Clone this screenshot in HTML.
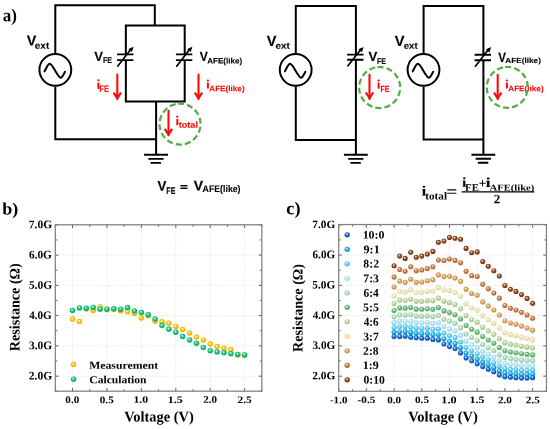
<!DOCTYPE html>
<html><head><meta charset="utf-8"><title>figure</title>
<style>html,body{margin:0;padding:0;background:#fff;}svg{display:block;will-change:transform;text-rendering:geometricPrecision;}</style></head>
<body><svg width="550" height="429" viewBox="0 0 550 429">
<rect width="550" height="429" fill="#fff"/>
<defs><radialGradient id="gffbe00" cx="0.5" cy="0.5" r="0.5" fx="0.38" fy="0.3"><stop offset="0" stop-color="#ffffff"/><stop offset="0.24" stop-color="#ffe28c"/><stop offset="0.62" stop-color="#ffbe00"/><stop offset="1" stop-color="#ebaf00"/></radialGradient>
<radialGradient id="g0ac070" cx="0.5" cy="0.5" r="0.5" fx="0.38" fy="0.3"><stop offset="0" stop-color="#ffffff"/><stop offset="0.24" stop-color="#91e3bf"/><stop offset="0.62" stop-color="#0ac070"/><stop offset="1" stop-color="#09b167"/></radialGradient>
<radialGradient id="g883e12" cx="0.5" cy="0.5" r="0.5" fx="0.38" fy="0.3"><stop offset="0" stop-color="#ffffff"/><stop offset="0.24" stop-color="#c9a894"/><stop offset="0.62" stop-color="#883e12"/><stop offset="1" stop-color="#7d3911"/></radialGradient>
<radialGradient id="gc0763a" cx="0.5" cy="0.5" r="0.5" fx="0.38" fy="0.3"><stop offset="0" stop-color="#ffffff"/><stop offset="0.24" stop-color="#e3c1a6"/><stop offset="0.62" stop-color="#c0763a"/><stop offset="1" stop-color="#b16d35"/></radialGradient>
<radialGradient id="gd69e52" cx="0.5" cy="0.5" r="0.5" fx="0.38" fy="0.3"><stop offset="0" stop-color="#ffffff"/><stop offset="0.24" stop-color="#edd3b1"/><stop offset="0.62" stop-color="#d69e52"/><stop offset="1" stop-color="#c5914b"/></radialGradient>
<radialGradient id="gece4aa" cx="0.5" cy="0.5" r="0.5" fx="0.38" fy="0.3"><stop offset="0" stop-color="#ffffff"/><stop offset="0.24" stop-color="#f6f3d9"/><stop offset="0.62" stop-color="#ece4aa"/><stop offset="1" stop-color="#d9d29c"/></radialGradient>
<radialGradient id="gb6d494" cx="0.5" cy="0.5" r="0.5" fx="0.38" fy="0.3"><stop offset="0" stop-color="#ffffff"/><stop offset="0.24" stop-color="#deeccf"/><stop offset="0.62" stop-color="#b6d494"/><stop offset="1" stop-color="#a7c388"/></radialGradient>
<radialGradient id="g60ba70" cx="0.5" cy="0.5" r="0.5" fx="0.38" fy="0.3"><stop offset="0" stop-color="#ffffff"/><stop offset="0.24" stop-color="#b7e0bf"/><stop offset="0.62" stop-color="#60ba70"/><stop offset="1" stop-color="#58ab67"/></radialGradient>
<radialGradient id="ga8d8b4" cx="0.5" cy="0.5" r="0.5" fx="0.38" fy="0.3"><stop offset="0" stop-color="#ffffff"/><stop offset="0.24" stop-color="#d8eddd"/><stop offset="0.62" stop-color="#a8d8b4"/><stop offset="1" stop-color="#9bc7a6"/></radialGradient>
<radialGradient id="gace4fa" cx="0.5" cy="0.5" r="0.5" fx="0.38" fy="0.3"><stop offset="0" stop-color="#ffffff"/><stop offset="0.24" stop-color="#daf3fd"/><stop offset="0.62" stop-color="#ace4fa"/><stop offset="1" stop-color="#9ed2e6"/></radialGradient>
<radialGradient id="g56ccf6" cx="0.5" cy="0.5" r="0.5" fx="0.38" fy="0.3"><stop offset="0" stop-color="#ffffff"/><stop offset="0.24" stop-color="#b3e8fb"/><stop offset="0.62" stop-color="#56ccf6"/><stop offset="1" stop-color="#4fbce2"/></radialGradient>
<radialGradient id="g10a6ec" cx="0.5" cy="0.5" r="0.5" fx="0.38" fy="0.3"><stop offset="0" stop-color="#ffffff"/><stop offset="0.24" stop-color="#93d7f6"/><stop offset="0.62" stop-color="#10a6ec"/><stop offset="1" stop-color="#0f99d9"/></radialGradient>
<radialGradient id="g0862cc" cx="0.5" cy="0.5" r="0.5" fx="0.38" fy="0.3"><stop offset="0" stop-color="#ffffff"/><stop offset="0.24" stop-color="#90b8e8"/><stop offset="0.62" stop-color="#0862cc"/><stop offset="1" stop-color="#075abc"/></radialGradient></defs>
<path d="M55.3 53V5.25H154.8V25.55" stroke="#000" stroke-width="2" fill="none"/>
<path d="M125.85 54.4V25.55H184.7V54.4M125.85 60.1V101.6H184.7V60.1" stroke="#000" stroke-width="2" fill="none"/>
<path d="M156.1 101.6V154.75" stroke="#000" stroke-width="2" fill="none"/>
<path d="M55.3 86.6V139.2H156.1" stroke="#000" stroke-width="2" fill="none"/>
<circle cx="55.35" cy="69.85" r="15.9" stroke="#000" stroke-width="2.0" fill="none"/>
<path d="M44.55 71.35C46.75 67.55 47.85 63.85 49.85 63.85C52.45 63.85 57.95 77.65 60.55 77.65C62.45 77.65 63.45 74.35 65.05 71.75" stroke="#000" stroke-width="2" fill="none" stroke-linecap="round"/>
<path d="M117.05 54.40H133.45M117.05 60.10H133.45" stroke="#000" stroke-width="1.9" fill="none"/>
<path d="M117.85 66.10L131.05 49.00" stroke="#000" stroke-width="1.7" fill="none" stroke-linecap="round"/>
<path d="M133.55 46.70L128.35 49.10L131.95 52.10Z" fill="#000"/>
<path d="M175.90 54.35H192.30M175.90 60.15H192.30" stroke="#000" stroke-width="1.9" fill="none"/>
<path d="M176.70 66.15L189.90 48.95" stroke="#000" stroke-width="1.7" fill="none" stroke-linecap="round"/>
<path d="M192.40 46.65L187.20 49.05L190.80 52.05Z" fill="#000"/>
<path d="M144.10 154.75H168.00M148.40 158.85H163.60M150.60 162.85H161.00" stroke="#000" stroke-width="1.9" fill="none"/>
<path d="M117.30 74.60V99.10" stroke="#ff0a0a" stroke-width="2.1" fill="none" stroke-linecap="round"/>
<path d="M113.60 92.60L117.30 98.20L121.00 92.60" stroke="#ff0a0a" stroke-width="2.2" fill="none" stroke-linejoin="miter" stroke-miterlimit="6"/>
<path d="M198.50 74.60V99.10" stroke="#ff0a0a" stroke-width="2.1" fill="none" stroke-linecap="round"/>
<path d="M194.80 92.60L198.50 98.20L202.20 92.60" stroke="#ff0a0a" stroke-width="2.2" fill="none" stroke-linejoin="miter" stroke-miterlimit="6"/>
<path d="M168.50 110.80V135.30" stroke="#ff0a0a" stroke-width="2.1" fill="none" stroke-linecap="round"/>
<path d="M164.80 128.80L168.50 134.40L172.20 128.80" stroke="#ff0a0a" stroke-width="2.2" fill="none" stroke-linejoin="miter" stroke-miterlimit="6"/>
<path d="M295.8 53V6H355.9V54.6M355.9 60.1V154.8M355.9 139.9H295.8V86.6" stroke="#000" stroke-width="2" fill="none"/>
<circle cx="295.70" cy="69.85" r="15.9" stroke="#000" stroke-width="2.0" fill="none"/>
<path d="M284.90 71.35C287.10 67.55 288.20 63.85 290.20 63.85C292.80 63.85 298.30 77.65 300.90 77.65C302.80 77.65 303.80 74.35 305.40 71.75" stroke="#000" stroke-width="2" fill="none" stroke-linecap="round"/>
<path d="M347.10 54.60H363.50M347.10 59.80H363.50" stroke="#000" stroke-width="1.9" fill="none"/>
<path d="M347.90 65.80L361.10 49.20" stroke="#000" stroke-width="1.7" fill="none" stroke-linecap="round"/>
<path d="M363.60 46.90L358.40 49.30L362.00 52.30Z" fill="#000"/>
<path d="M343.90 154.80H367.80M348.20 158.90H363.40M350.40 162.90H360.80" stroke="#000" stroke-width="1.9" fill="none"/>
<path d="M369.50 74.80V99.00" stroke="#ff0a0a" stroke-width="2.1" fill="none" stroke-linecap="round"/>
<path d="M365.80 92.50L369.50 98.10L373.20 92.50" stroke="#ff0a0a" stroke-width="2.2" fill="none" stroke-linejoin="miter" stroke-miterlimit="6"/>
<path d="M423.6 53V6H483.4V54.7M483.4 60.2V154.7M483.4 139.4H423.6V86.6" stroke="#000" stroke-width="2" fill="none"/>
<circle cx="423.50" cy="69.85" r="15.9" stroke="#000" stroke-width="2.0" fill="none"/>
<path d="M412.70 71.35C414.90 67.55 416.00 63.85 418.00 63.85C420.60 63.85 426.10 77.65 428.70 77.65C430.60 77.65 431.60 74.35 433.20 71.75" stroke="#000" stroke-width="2" fill="none" stroke-linecap="round"/>
<path d="M474.60 54.70H491.00M474.60 60.20H491.00" stroke="#000" stroke-width="1.9" fill="none"/>
<path d="M475.40 66.20L488.60 49.30" stroke="#000" stroke-width="1.7" fill="none" stroke-linecap="round"/>
<path d="M491.10 47.00L485.90 49.40L489.50 52.40Z" fill="#000"/>
<path d="M471.40 154.70H495.30M475.70 158.80H490.90M477.90 162.80H488.30" stroke="#000" stroke-width="1.9" fill="none"/>
<path d="M497.70 74.80V99.10" stroke="#ff0a0a" stroke-width="2.1" fill="none" stroke-linecap="round"/>
<path d="M494.00 92.60L497.70 98.20L501.40 92.60" stroke="#ff0a0a" stroke-width="2.2" fill="none" stroke-linejoin="miter" stroke-miterlimit="6"/>
<text class="L" transform="translate(26.64 45.60) skewY(0.03) scale(0.9910 1)" font-family='"Liberation Sans", sans-serif' font-size="14.51" font-weight="bold" fill="#000" stroke="#000" stroke-width="0.15">V</text>
<text class="L" transform="translate(34.82 48.73) skewY(0.03) scale(1.0437 1)" font-family='"Liberation Sans", sans-serif' font-size="9.54" font-weight="bold" fill="#000" stroke="#000" stroke-width="0.10">ext</text>
<text class="L" transform="translate(94.26 61.02) skewY(0.03) scale(0.9826 1)" font-family='"Liberation Sans", sans-serif' font-size="13.42" font-weight="bold" fill="#000" stroke="#000" stroke-width="0.15">V</text>
<text class="L" transform="translate(102.93 63.43) skewY(0.03) scale(0.8483 1)" font-family='"Liberation Sans", sans-serif' font-size="8.47" font-weight="bold" fill="#000" stroke="#000" stroke-width="0.10">FE</text>
<text class="L" transform="translate(199.82 60.90) skewY(0.03) scale(0.9135 1)" font-family='"Liberation Sans", sans-serif' font-size="13.25" font-weight="bold" fill="#000" stroke="#000" stroke-width="0.15">V</text>
<text class="L" transform="translate(207.15 63.47) skewY(0.03) scale(1.0118 1)" font-family='"Liberation Sans", sans-serif' font-size="8.03" font-weight="bold" fill="#000" stroke="#000" stroke-width="0.10">AFE(like)</text>
<ellipse cx="98.45" cy="80.30" rx="1.2" ry="1.0" fill="#ff0a0a"/>
<rect x="97.45" y="82.40" width="2.0" height="6.55" rx="0.4" fill="#ff0a0a"/>
<g class="L"></g>
<text class="L" transform="translate(99.37 91.91) skewY(0.03) scale(0.7933 1)" font-family='"Liberation Sans", sans-serif' font-size="9.61" font-weight="bold" fill="#ff0a0a" stroke="#ff0a0a" stroke-width="0.10">FE</text>
<ellipse cx="207.90" cy="80.40" rx="1.2" ry="1.0" fill="#ff0a0a"/>
<rect x="206.90" y="82.50" width="2.0" height="6.05" rx="0.4" fill="#ff0a0a"/>
<g class="L"></g>
<text class="L" transform="translate(209.24 91.19) skewY(0.03) scale(1.0162 1)" font-family='"Liberation Sans", sans-serif' font-size="8.04" font-weight="bold" fill="#ff0a0a" stroke="#ff0a0a" stroke-width="0.10">AFE(like)</text>
<ellipse cx="177.30" cy="116.80" rx="1.2" ry="1.0" fill="#ff0a0a"/>
<rect x="176.30" y="118.90" width="2.0" height="6.45" rx="0.4" fill="#ff0a0a"/>
<g class="L"></g>
<text class="L" transform="translate(178.79 127.77) skewY(0.03) scale(1.0198 1)" font-family='"Liberation Sans", sans-serif' font-size="8.89" font-weight="bold" fill="#ff0a0a" stroke="#ff0a0a" stroke-width="0.10">total</text>
<text class="L" transform="translate(157.41 190.71) skewY(0.03) scale(0.9444 1)" font-family='"Liberation Sans", sans-serif' font-size="14.13" font-weight="bold" fill="#000" stroke="#000" stroke-width="0.15">V</text>
<text class="L" transform="translate(166.32 193.89) skewY(0.03) scale(0.7364 1)" font-family='"Liberation Sans", sans-serif' font-size="9.70" font-weight="bold" fill="#000" stroke="#000" stroke-width="0.10">FE</text>
<text class="L" transform="translate(180.10 190.55) skewY(0.03) scale(1.2888 1)" font-family='"Liberation Sans", sans-serif' font-size="10.54" font-weight="bold" fill="#000" stroke="#000" stroke-width="0.15">=</text>
<text class="L" transform="translate(193.63 190.60) skewY(0.03) scale(0.9866 1)" font-family='"Liberation Sans", sans-serif' font-size="14.18" font-weight="bold" fill="#000" stroke="#000" stroke-width="0.15">V</text>
<text class="L" transform="translate(202.58 192.45) skewY(0.03) scale(0.9219 1)" font-family='"Liberation Sans", sans-serif' font-size="9.50" font-weight="bold" fill="#000" stroke="#000" stroke-width="0.10">AFE(like)</text>
<text class="L" transform="translate(266.65 45.89) skewY(0.03) scale(0.9719 1)" font-family='"Liberation Sans", sans-serif' font-size="14.96" font-weight="bold" fill="#000" stroke="#000" stroke-width="0.15">V</text>
<text class="L" transform="translate(275.41 48.71) skewY(0.03) scale(1.0793 1)" font-family='"Liberation Sans", sans-serif' font-size="9.20" font-weight="bold" fill="#000" stroke="#000" stroke-width="0.10">ext</text>
<text class="L" transform="translate(368.45 61.01) skewY(0.03) scale(1.0015 1)" font-family='"Liberation Sans", sans-serif' font-size="13.18" font-weight="bold" fill="#000" stroke="#000" stroke-width="0.15">V</text>
<text class="L" transform="translate(376.99 63.90) skewY(0.03) scale(0.8614 1)" font-family='"Liberation Sans", sans-serif' font-size="8.26" font-weight="bold" fill="#000" stroke="#000" stroke-width="0.10">FE</text>
<ellipse cx="378.65" cy="80.50" rx="1.2" ry="1.0" fill="#ff0a0a"/>
<rect x="377.65" y="82.60" width="2.0" height="6.15" rx="0.4" fill="#ff0a0a"/>
<g class="L"></g>
<text class="L" transform="translate(380.39 92.07) skewY(0.03) scale(0.7961 1)" font-family='"Liberation Sans", sans-serif' font-size="8.85" font-weight="bold" fill="#ff0a0a" stroke="#ff0a0a" stroke-width="0.10">FE</text>
<text class="L" transform="translate(394.84 45.89) skewY(0.03) scale(0.9899 1)" font-family='"Liberation Sans", sans-serif' font-size="14.70" font-weight="bold" fill="#000" stroke="#000" stroke-width="0.15">V</text>
<text class="L" transform="translate(403.71 48.73) skewY(0.03) scale(1.0551 1)" font-family='"Liberation Sans", sans-serif' font-size="9.18" font-weight="bold" fill="#000" stroke="#000" stroke-width="0.10">ext</text>
<text class="L" transform="translate(498.28 61.64) skewY(0.03) scale(0.8501 1)" font-family='"Liberation Sans", sans-serif' font-size="13.59" font-weight="bold" fill="#000" stroke="#000" stroke-width="0.15">V</text>
<text class="L" transform="translate(505.24 63.07) skewY(0.03) scale(1.1148 1)" font-family='"Liberation Sans", sans-serif' font-size="7.38" font-weight="bold" fill="#000" stroke="#000" stroke-width="0.10">AFE(like)</text>
<ellipse cx="506.90" cy="80.40" rx="1.2" ry="1.0" fill="#ff0a0a"/>
<rect x="505.90" y="82.50" width="2.0" height="6.05" rx="0.4" fill="#ff0a0a"/>
<g class="L"></g>
<text class="L" transform="translate(508.24 91.19) skewY(0.03) scale(1.0162 1)" font-family='"Liberation Sans", sans-serif' font-size="8.04" font-weight="bold" fill="#ff0a0a" stroke="#ff0a0a" stroke-width="0.10">AFE(like)</text>
<circle cx="180.05" cy="124.15" r="20.50" stroke="#52ad47" stroke-width="2.2" fill="none" stroke-dasharray="6.072 3.128" transform="rotate(-96.0 180.05 124.15)"/>
<circle cx="379.65" cy="87.55" r="20.50" stroke="#52ad47" stroke-width="2.2" fill="none" stroke-dasharray="6.072 3.128" transform="rotate(-96.0 379.65 87.55)"/>
<circle cx="507.30" cy="87.40" r="20.50" stroke="#52ad47" stroke-width="2.2" fill="none" stroke-dasharray="6.072 3.128" transform="rotate(-96.0 507.30 87.40)"/>
<path d="M72.51 225.80V390.20M106.94 225.80V390.20M141.36 225.80V390.20M175.79 225.80V390.20M210.21 225.80V390.20M244.64 225.80V390.20M56.30 376.17H260.85M56.30 345.89H260.85M56.30 315.62H260.85M56.30 285.36H260.85M56.30 255.09H260.85" stroke="#d8d8d8" stroke-width="0.8" stroke-dasharray="0.9 1.5" fill="none"/>
<path d="M55.30 391.20v-2.00M55.30 224.80v2.00M72.51 391.20v-3.20M72.51 224.80v3.20M89.72 391.20v-2.00M89.72 224.80v2.00M106.94 391.20v-3.20M106.94 224.80v3.20M124.15 391.20v-2.00M124.15 224.80v2.00M141.36 391.20v-3.20M141.36 224.80v3.20M158.57 391.20v-2.00M158.57 224.80v2.00M175.79 391.20v-3.20M175.79 224.80v3.20M193.00 391.20v-2.00M193.00 224.80v2.00M210.21 391.20v-3.20M210.21 224.80v3.20M227.43 391.20v-2.00M227.43 224.80v2.00M244.64 391.20v-3.20M244.64 224.80v3.20M261.85 391.20v-2.00M261.85 224.80v2.00M55.30 391.30h2.00M261.85 391.30h-2.00M55.30 376.17h3.20M261.85 376.17h-3.20M55.30 361.03h2.00M261.85 361.03h-2.00M55.30 345.89h3.20M261.85 345.89h-3.20M55.30 330.76h2.00M261.85 330.76h-2.00M55.30 315.62h3.20M261.85 315.62h-3.20M55.30 300.49h2.00M261.85 300.49h-2.00M55.30 285.36h3.20M261.85 285.36h-3.20M55.30 270.22h2.00M261.85 270.22h-2.00M55.30 255.09h3.20M261.85 255.09h-3.20M55.30 239.95h2.00M261.85 239.95h-2.00M55.30 224.82h3.20M261.85 224.82h-3.20" stroke="#606060" stroke-width="1" fill="none"/>
<rect x="55.30" y="224.80" width="206.55" height="166.40" stroke="#808080" stroke-width="1.25" fill="none"/>
<path d="M366.40 225.55V390.30M394.10 225.55V390.30M421.80 225.55V390.30M449.50 225.55V390.30M477.20 225.55V390.30M504.90 225.55V390.30M532.60 225.55V390.30M339.70 376.17H545.45M339.70 345.89H545.45M339.70 315.62H545.45M339.70 285.36H545.45M339.70 255.09H545.45" stroke="#d8d8d8" stroke-width="0.8" stroke-dasharray="0.9 1.5" fill="none"/>
<path d="M338.70 391.30v-3.20M338.70 224.55v3.20M352.55 391.30v-2.00M352.55 224.55v2.00M366.40 391.30v-3.20M366.40 224.55v3.20M380.25 391.30v-2.00M380.25 224.55v2.00M394.10 391.30v-3.20M394.10 224.55v3.20M407.95 391.30v-2.00M407.95 224.55v2.00M421.80 391.30v-3.20M421.80 224.55v3.20M435.65 391.30v-2.00M435.65 224.55v2.00M449.50 391.30v-3.20M449.50 224.55v3.20M463.35 391.30v-2.00M463.35 224.55v2.00M477.20 391.30v-3.20M477.20 224.55v3.20M491.05 391.30v-2.00M491.05 224.55v2.00M504.90 391.30v-3.20M504.90 224.55v3.20M518.75 391.30v-2.00M518.75 224.55v2.00M532.60 391.30v-3.20M532.60 224.55v3.20M546.45 391.30v-2.00M546.45 224.55v2.00M338.70 391.30h2.00M546.45 391.30h-2.00M338.70 376.17h3.20M546.45 376.17h-3.20M338.70 361.03h2.00M546.45 361.03h-2.00M338.70 345.89h3.20M546.45 345.89h-3.20M338.70 330.76h2.00M546.45 330.76h-2.00M338.70 315.62h3.20M546.45 315.62h-3.20M338.70 300.49h2.00M546.45 300.49h-2.00M338.70 285.36h3.20M546.45 285.36h-3.20M338.70 270.22h2.00M546.45 270.22h-2.00M338.70 255.09h3.20M546.45 255.09h-3.20M338.70 239.95h2.00M546.45 239.95h-2.00M338.70 224.82h3.20M546.45 224.82h-3.20" stroke="#606060" stroke-width="1" fill="none"/>
<rect x="338.70" y="224.55" width="207.75" height="166.75" stroke="#808080" stroke-width="1.25" fill="none"/>
<circle cx="72.51" cy="319.10" r="2.75" fill="url(#gffbe00)"/>
<circle cx="79.40" cy="321.60" r="2.75" fill="url(#gffbe00)"/>
<circle cx="86.28" cy="309.00" r="2.75" fill="url(#gffbe00)"/>
<circle cx="93.17" cy="310.40" r="2.75" fill="url(#gffbe00)"/>
<circle cx="100.05" cy="307.10" r="2.75" fill="url(#gffbe00)"/>
<circle cx="106.94" cy="309.80" r="2.75" fill="url(#gffbe00)"/>
<circle cx="113.82" cy="309.50" r="2.75" fill="url(#gffbe00)"/>
<circle cx="120.71" cy="310.90" r="2.75" fill="url(#gffbe00)"/>
<circle cx="127.59" cy="311.80" r="2.75" fill="url(#gffbe00)"/>
<circle cx="134.48" cy="313.50" r="2.75" fill="url(#gffbe00)"/>
<circle cx="141.36" cy="317.90" r="2.75" fill="url(#gffbe00)"/>
<circle cx="148.25" cy="315.70" r="2.75" fill="url(#gffbe00)"/>
<circle cx="155.13" cy="321.20" r="2.75" fill="url(#gffbe00)"/>
<circle cx="162.02" cy="321.80" r="2.75" fill="url(#gffbe00)"/>
<circle cx="168.90" cy="323.20" r="2.75" fill="url(#gffbe00)"/>
<circle cx="175.79" cy="326.50" r="2.75" fill="url(#gffbe00)"/>
<circle cx="182.67" cy="329.50" r="2.75" fill="url(#gffbe00)"/>
<circle cx="189.56" cy="333.00" r="2.75" fill="url(#gffbe00)"/>
<circle cx="196.44" cy="337.10" r="2.75" fill="url(#gffbe00)"/>
<circle cx="203.33" cy="339.90" r="2.75" fill="url(#gffbe00)"/>
<circle cx="210.21" cy="344.10" r="2.75" fill="url(#gffbe00)"/>
<circle cx="217.10" cy="346.60" r="2.75" fill="url(#gffbe00)"/>
<circle cx="223.98" cy="348.30" r="2.75" fill="url(#gffbe00)"/>
<circle cx="230.87" cy="349.60" r="2.75" fill="url(#gffbe00)"/>
<circle cx="237.75" cy="354.90" r="2.75" fill="url(#gffbe00)"/>
<circle cx="244.64" cy="355.20" r="2.75" fill="url(#gffbe00)"/>
<circle cx="72.51" cy="310.45" r="2.75" fill="url(#g0ac070)"/>
<circle cx="79.40" cy="307.89" r="2.75" fill="url(#g0ac070)"/>
<circle cx="86.28" cy="308.15" r="2.75" fill="url(#g0ac070)"/>
<circle cx="93.17" cy="307.44" r="2.75" fill="url(#g0ac070)"/>
<circle cx="100.05" cy="309.17" r="2.75" fill="url(#g0ac070)"/>
<circle cx="106.94" cy="309.31" r="2.75" fill="url(#g0ac070)"/>
<circle cx="113.82" cy="308.81" r="2.75" fill="url(#g0ac070)"/>
<circle cx="120.71" cy="309.19" r="2.75" fill="url(#g0ac070)"/>
<circle cx="127.59" cy="307.46" r="2.75" fill="url(#g0ac070)"/>
<circle cx="134.48" cy="310.89" r="2.75" fill="url(#g0ac070)"/>
<circle cx="141.36" cy="312.60" r="2.75" fill="url(#g0ac070)"/>
<circle cx="148.25" cy="314.68" r="2.75" fill="url(#g0ac070)"/>
<circle cx="155.13" cy="319.03" r="2.75" fill="url(#g0ac070)"/>
<circle cx="162.02" cy="325.59" r="2.75" fill="url(#g0ac070)"/>
<circle cx="168.90" cy="329.23" r="2.75" fill="url(#g0ac070)"/>
<circle cx="175.79" cy="332.14" r="2.75" fill="url(#g0ac070)"/>
<circle cx="182.67" cy="336.56" r="2.75" fill="url(#g0ac070)"/>
<circle cx="189.56" cy="340.00" r="2.75" fill="url(#g0ac070)"/>
<circle cx="196.44" cy="343.28" r="2.75" fill="url(#g0ac070)"/>
<circle cx="203.33" cy="347.43" r="2.75" fill="url(#g0ac070)"/>
<circle cx="210.21" cy="350.79" r="2.75" fill="url(#g0ac070)"/>
<circle cx="217.10" cy="352.02" r="2.75" fill="url(#g0ac070)"/>
<circle cx="223.98" cy="352.78" r="2.75" fill="url(#g0ac070)"/>
<circle cx="230.87" cy="353.72" r="2.75" fill="url(#g0ac070)"/>
<circle cx="237.75" cy="354.38" r="2.75" fill="url(#g0ac070)"/>
<circle cx="244.64" cy="354.88" r="2.75" fill="url(#g0ac070)"/>
<circle cx="73.60" cy="364.60" r="2.75" fill="url(#gffbe00)"/>
<circle cx="73.60" cy="379.20" r="2.75" fill="url(#g0ac070)"/>
<circle cx="394.10" cy="265.80" r="2.55" fill="url(#g883e12)"/>
<circle cx="399.64" cy="256.10" r="2.55" fill="url(#g883e12)"/>
<circle cx="405.18" cy="258.40" r="2.55" fill="url(#g883e12)"/>
<circle cx="410.72" cy="252.30" r="2.55" fill="url(#g883e12)"/>
<circle cx="416.26" cy="257.20" r="2.55" fill="url(#g883e12)"/>
<circle cx="421.80" cy="256.10" r="2.55" fill="url(#g883e12)"/>
<circle cx="427.34" cy="254.10" r="2.55" fill="url(#g883e12)"/>
<circle cx="432.88" cy="251.40" r="2.55" fill="url(#g883e12)"/>
<circle cx="438.42" cy="242.30" r="2.55" fill="url(#g883e12)"/>
<circle cx="443.96" cy="241.00" r="2.55" fill="url(#g883e12)"/>
<circle cx="449.50" cy="237.40" r="2.55" fill="url(#g883e12)"/>
<circle cx="455.04" cy="238.30" r="2.55" fill="url(#g883e12)"/>
<circle cx="460.58" cy="239.20" r="2.55" fill="url(#g883e12)"/>
<circle cx="466.12" cy="248.40" r="2.55" fill="url(#g883e12)"/>
<circle cx="471.66" cy="252.70" r="2.55" fill="url(#g883e12)"/>
<circle cx="477.20" cy="251.90" r="2.55" fill="url(#g883e12)"/>
<circle cx="482.74" cy="261.50" r="2.55" fill="url(#g883e12)"/>
<circle cx="488.28" cy="266.30" r="2.55" fill="url(#g883e12)"/>
<circle cx="493.82" cy="270.70" r="2.55" fill="url(#g883e12)"/>
<circle cx="499.36" cy="276.00" r="2.55" fill="url(#g883e12)"/>
<circle cx="504.90" cy="285.50" r="2.55" fill="url(#g883e12)"/>
<circle cx="510.44" cy="289.30" r="2.55" fill="url(#g883e12)"/>
<circle cx="515.98" cy="291.40" r="2.55" fill="url(#g883e12)"/>
<circle cx="521.52" cy="294.60" r="2.55" fill="url(#g883e12)"/>
<circle cx="527.06" cy="298.40" r="2.55" fill="url(#g883e12)"/>
<circle cx="532.60" cy="303.30" r="2.55" fill="url(#g883e12)"/>
<circle cx="394.10" cy="277.09" r="2.55" fill="url(#gc0763a)"/>
<circle cx="399.64" cy="269.54" r="2.55" fill="url(#gc0763a)"/>
<circle cx="405.18" cy="271.21" r="2.55" fill="url(#gc0763a)"/>
<circle cx="410.72" cy="266.80" r="2.55" fill="url(#gc0763a)"/>
<circle cx="416.26" cy="270.73" r="2.55" fill="url(#gc0763a)"/>
<circle cx="421.80" cy="270.02" r="2.55" fill="url(#gc0763a)"/>
<circle cx="427.34" cy="268.49" r="2.55" fill="url(#gc0763a)"/>
<circle cx="432.88" cy="266.80" r="2.55" fill="url(#gc0763a)"/>
<circle cx="438.42" cy="260.11" r="2.55" fill="url(#gc0763a)"/>
<circle cx="443.96" cy="260.57" r="2.55" fill="url(#gc0763a)"/>
<circle cx="449.50" cy="258.94" r="2.55" fill="url(#gc0763a)"/>
<circle cx="455.04" cy="260.38" r="2.55" fill="url(#gc0763a)"/>
<circle cx="460.58" cy="262.79" r="2.55" fill="url(#gc0763a)"/>
<circle cx="466.12" cy="271.37" r="2.55" fill="url(#gc0763a)"/>
<circle cx="471.66" cy="275.64" r="2.55" fill="url(#gc0763a)"/>
<circle cx="477.20" cy="276.49" r="2.55" fill="url(#gc0763a)"/>
<circle cx="482.74" cy="284.34" r="2.55" fill="url(#gc0763a)"/>
<circle cx="488.28" cy="288.84" r="2.55" fill="url(#gc0763a)"/>
<circle cx="493.82" cy="293.02" r="2.55" fill="url(#gc0763a)"/>
<circle cx="499.36" cy="298.17" r="2.55" fill="url(#gc0763a)"/>
<circle cx="504.90" cy="305.45" r="2.55" fill="url(#gc0763a)"/>
<circle cx="510.44" cy="308.32" r="2.55" fill="url(#gc0763a)"/>
<circle cx="515.98" cy="309.94" r="2.55" fill="url(#gc0763a)"/>
<circle cx="521.52" cy="312.32" r="2.55" fill="url(#gc0763a)"/>
<circle cx="527.06" cy="314.96" r="2.55" fill="url(#gc0763a)"/>
<circle cx="532.60" cy="318.24" r="2.55" fill="url(#gc0763a)"/>
<circle cx="394.10" cy="286.98" r="2.55" fill="url(#gd69e52)"/>
<circle cx="399.64" cy="281.12" r="2.55" fill="url(#gd69e52)"/>
<circle cx="405.18" cy="282.30" r="2.55" fill="url(#gd69e52)"/>
<circle cx="410.72" cy="279.18" r="2.55" fill="url(#gd69e52)"/>
<circle cx="416.26" cy="282.36" r="2.55" fill="url(#gd69e52)"/>
<circle cx="421.80" cy="281.95" r="2.55" fill="url(#gd69e52)"/>
<circle cx="427.34" cy="280.78" r="2.55" fill="url(#gd69e52)"/>
<circle cx="432.88" cy="279.84" r="2.55" fill="url(#gd69e52)"/>
<circle cx="438.42" cy="274.92" r="2.55" fill="url(#gd69e52)"/>
<circle cx="443.96" cy="276.58" r="2.55" fill="url(#gd69e52)"/>
<circle cx="449.50" cy="276.28" r="2.55" fill="url(#gd69e52)"/>
<circle cx="455.04" cy="278.03" r="2.55" fill="url(#gd69e52)"/>
<circle cx="460.58" cy="281.35" r="2.55" fill="url(#gd69e52)"/>
<circle cx="466.12" cy="289.35" r="2.55" fill="url(#gd69e52)"/>
<circle cx="471.66" cy="293.49" r="2.55" fill="url(#gd69e52)"/>
<circle cx="477.20" cy="295.31" r="2.55" fill="url(#gd69e52)"/>
<circle cx="482.74" cy="301.91" r="2.55" fill="url(#gd69e52)"/>
<circle cx="488.28" cy="306.11" r="2.55" fill="url(#gd69e52)"/>
<circle cx="493.82" cy="310.06" r="2.55" fill="url(#gd69e52)"/>
<circle cx="499.36" cy="314.96" r="2.55" fill="url(#gd69e52)"/>
<circle cx="504.90" cy="320.75" r="2.55" fill="url(#gd69e52)"/>
<circle cx="510.44" cy="322.99" r="2.55" fill="url(#gd69e52)"/>
<circle cx="515.98" cy="324.28" r="2.55" fill="url(#gd69e52)"/>
<circle cx="521.52" cy="326.11" r="2.55" fill="url(#gd69e52)"/>
<circle cx="527.06" cy="327.97" r="2.55" fill="url(#gd69e52)"/>
<circle cx="532.60" cy="330.17" r="2.55" fill="url(#gd69e52)"/>
<circle cx="394.10" cy="295.71" r="2.55" fill="url(#gece4aa)"/>
<circle cx="399.64" cy="291.20" r="2.55" fill="url(#gece4aa)"/>
<circle cx="405.18" cy="292.00" r="2.55" fill="url(#gece4aa)"/>
<circle cx="410.72" cy="289.88" r="2.55" fill="url(#gece4aa)"/>
<circle cx="416.26" cy="292.46" r="2.55" fill="url(#gece4aa)"/>
<circle cx="421.80" cy="292.29" r="2.55" fill="url(#gece4aa)"/>
<circle cx="427.34" cy="291.40" r="2.55" fill="url(#gece4aa)"/>
<circle cx="432.88" cy="291.01" r="2.55" fill="url(#gece4aa)"/>
<circle cx="438.42" cy="287.45" r="2.55" fill="url(#gece4aa)"/>
<circle cx="443.96" cy="289.92" r="2.55" fill="url(#gece4aa)"/>
<circle cx="449.50" cy="290.54" r="2.55" fill="url(#gece4aa)"/>
<circle cx="455.04" cy="292.47" r="2.55" fill="url(#gece4aa)"/>
<circle cx="460.58" cy="296.33" r="2.55" fill="url(#gece4aa)"/>
<circle cx="466.12" cy="303.80" r="2.55" fill="url(#gece4aa)"/>
<circle cx="471.66" cy="307.78" r="2.55" fill="url(#gece4aa)"/>
<circle cx="477.20" cy="310.17" r="2.55" fill="url(#gece4aa)"/>
<circle cx="482.74" cy="315.85" r="2.55" fill="url(#gece4aa)"/>
<circle cx="488.28" cy="319.77" r="2.55" fill="url(#gece4aa)"/>
<circle cx="493.82" cy="323.48" r="2.55" fill="url(#gece4aa)"/>
<circle cx="499.36" cy="328.12" r="2.55" fill="url(#gece4aa)"/>
<circle cx="504.90" cy="332.85" r="2.55" fill="url(#gece4aa)"/>
<circle cx="510.44" cy="334.65" r="2.55" fill="url(#gece4aa)"/>
<circle cx="515.98" cy="335.71" r="2.55" fill="url(#gece4aa)"/>
<circle cx="521.52" cy="337.15" r="2.55" fill="url(#gece4aa)"/>
<circle cx="527.06" cy="338.48" r="2.55" fill="url(#gece4aa)"/>
<circle cx="532.60" cy="339.91" r="2.55" fill="url(#gece4aa)"/>
<circle cx="394.10" cy="303.49" r="2.55" fill="url(#gb6d494)"/>
<circle cx="399.64" cy="300.06" r="2.55" fill="url(#gb6d494)"/>
<circle cx="405.18" cy="300.56" r="2.55" fill="url(#gb6d494)"/>
<circle cx="410.72" cy="299.22" r="2.55" fill="url(#gb6d494)"/>
<circle cx="416.26" cy="301.33" r="2.55" fill="url(#gb6d494)"/>
<circle cx="421.80" cy="301.33" r="2.55" fill="url(#gb6d494)"/>
<circle cx="427.34" cy="300.66" r="2.55" fill="url(#gb6d494)"/>
<circle cx="432.88" cy="300.70" r="2.55" fill="url(#gb6d494)"/>
<circle cx="438.42" cy="298.17" r="2.55" fill="url(#gb6d494)"/>
<circle cx="443.96" cy="301.21" r="2.55" fill="url(#gb6d494)"/>
<circle cx="449.50" cy="302.47" r="2.55" fill="url(#gb6d494)"/>
<circle cx="455.04" cy="304.50" r="2.55" fill="url(#gb6d494)"/>
<circle cx="460.58" cy="308.68" r="2.55" fill="url(#gb6d494)"/>
<circle cx="466.12" cy="315.67" r="2.55" fill="url(#gb6d494)"/>
<circle cx="471.66" cy="319.48" r="2.55" fill="url(#gb6d494)"/>
<circle cx="477.20" cy="322.20" r="2.55" fill="url(#gb6d494)"/>
<circle cx="482.74" cy="327.18" r="2.55" fill="url(#gb6d494)"/>
<circle cx="488.28" cy="330.85" r="2.55" fill="url(#gb6d494)"/>
<circle cx="493.82" cy="334.33" r="2.55" fill="url(#gb6d494)"/>
<circle cx="499.36" cy="338.72" r="2.55" fill="url(#gb6d494)"/>
<circle cx="504.90" cy="342.67" r="2.55" fill="url(#gb6d494)"/>
<circle cx="510.44" cy="344.15" r="2.55" fill="url(#gb6d494)"/>
<circle cx="515.98" cy="345.03" r="2.55" fill="url(#gb6d494)"/>
<circle cx="521.52" cy="346.19" r="2.55" fill="url(#gb6d494)"/>
<circle cx="527.06" cy="347.13" r="2.55" fill="url(#gb6d494)"/>
<circle cx="532.60" cy="348.03" r="2.55" fill="url(#gb6d494)"/>
<circle cx="394.10" cy="310.45" r="2.55" fill="url(#g60ba70)"/>
<circle cx="399.64" cy="307.89" r="2.55" fill="url(#g60ba70)"/>
<circle cx="405.18" cy="308.15" r="2.55" fill="url(#g60ba70)"/>
<circle cx="410.72" cy="307.44" r="2.55" fill="url(#g60ba70)"/>
<circle cx="416.26" cy="309.17" r="2.55" fill="url(#g60ba70)"/>
<circle cx="421.80" cy="309.31" r="2.55" fill="url(#g60ba70)"/>
<circle cx="427.34" cy="308.81" r="2.55" fill="url(#g60ba70)"/>
<circle cx="432.88" cy="309.19" r="2.55" fill="url(#g60ba70)"/>
<circle cx="438.42" cy="307.46" r="2.55" fill="url(#g60ba70)"/>
<circle cx="443.96" cy="310.89" r="2.55" fill="url(#g60ba70)"/>
<circle cx="449.50" cy="312.60" r="2.55" fill="url(#g60ba70)"/>
<circle cx="455.04" cy="314.68" r="2.55" fill="url(#g60ba70)"/>
<circle cx="460.58" cy="319.03" r="2.55" fill="url(#g60ba70)"/>
<circle cx="466.12" cy="325.59" r="2.55" fill="url(#g60ba70)"/>
<circle cx="471.66" cy="329.23" r="2.55" fill="url(#g60ba70)"/>
<circle cx="477.20" cy="332.14" r="2.55" fill="url(#g60ba70)"/>
<circle cx="482.74" cy="336.56" r="2.55" fill="url(#g60ba70)"/>
<circle cx="488.28" cy="340.00" r="2.55" fill="url(#g60ba70)"/>
<circle cx="493.82" cy="343.28" r="2.55" fill="url(#g60ba70)"/>
<circle cx="499.36" cy="347.43" r="2.55" fill="url(#g60ba70)"/>
<circle cx="504.90" cy="350.79" r="2.55" fill="url(#g60ba70)"/>
<circle cx="510.44" cy="352.02" r="2.55" fill="url(#g60ba70)"/>
<circle cx="515.98" cy="352.78" r="2.55" fill="url(#g60ba70)"/>
<circle cx="521.52" cy="353.72" r="2.55" fill="url(#g60ba70)"/>
<circle cx="527.06" cy="354.38" r="2.55" fill="url(#g60ba70)"/>
<circle cx="532.60" cy="354.88" r="2.55" fill="url(#g60ba70)"/>
<circle cx="394.10" cy="316.72" r="2.55" fill="url(#ga8d8b4)"/>
<circle cx="399.64" cy="314.88" r="2.55" fill="url(#ga8d8b4)"/>
<circle cx="405.18" cy="314.95" r="2.55" fill="url(#ga8d8b4)"/>
<circle cx="410.72" cy="314.74" r="2.55" fill="url(#ga8d8b4)"/>
<circle cx="416.26" cy="316.15" r="2.55" fill="url(#ga8d8b4)"/>
<circle cx="421.80" cy="316.40" r="2.55" fill="url(#ga8d8b4)"/>
<circle cx="427.34" cy="316.05" r="2.55" fill="url(#ga8d8b4)"/>
<circle cx="432.88" cy="316.67" r="2.55" fill="url(#ga8d8b4)"/>
<circle cx="438.42" cy="315.57" r="2.55" fill="url(#ga8d8b4)"/>
<circle cx="443.96" cy="319.28" r="2.55" fill="url(#ga8d8b4)"/>
<circle cx="449.50" cy="321.31" r="2.55" fill="url(#ga8d8b4)"/>
<circle cx="455.04" cy="323.41" r="2.55" fill="url(#ga8d8b4)"/>
<circle cx="460.58" cy="327.83" r="2.55" fill="url(#ga8d8b4)"/>
<circle cx="466.12" cy="334.01" r="2.55" fill="url(#ga8d8b4)"/>
<circle cx="471.66" cy="337.48" r="2.55" fill="url(#ga8d8b4)"/>
<circle cx="477.20" cy="340.50" r="2.55" fill="url(#ga8d8b4)"/>
<circle cx="482.74" cy="344.47" r="2.55" fill="url(#ga8d8b4)"/>
<circle cx="488.28" cy="347.70" r="2.55" fill="url(#ga8d8b4)"/>
<circle cx="493.82" cy="350.79" r="2.55" fill="url(#ga8d8b4)"/>
<circle cx="499.36" cy="354.72" r="2.55" fill="url(#ga8d8b4)"/>
<circle cx="504.90" cy="357.62" r="2.55" fill="url(#ga8d8b4)"/>
<circle cx="510.44" cy="358.66" r="2.55" fill="url(#ga8d8b4)"/>
<circle cx="515.98" cy="359.31" r="2.55" fill="url(#ga8d8b4)"/>
<circle cx="521.52" cy="360.09" r="2.55" fill="url(#ga8d8b4)"/>
<circle cx="527.06" cy="360.54" r="2.55" fill="url(#ga8d8b4)"/>
<circle cx="532.60" cy="360.76" r="2.55" fill="url(#ga8d8b4)"/>
<circle cx="394.10" cy="322.39" r="2.55" fill="url(#gace4fa)"/>
<circle cx="399.64" cy="321.15" r="2.55" fill="url(#gace4fa)"/>
<circle cx="405.18" cy="321.06" r="2.55" fill="url(#gace4fa)"/>
<circle cx="410.72" cy="321.25" r="2.55" fill="url(#gace4fa)"/>
<circle cx="416.26" cy="322.40" r="2.55" fill="url(#gace4fa)"/>
<circle cx="421.80" cy="322.74" r="2.55" fill="url(#gace4fa)"/>
<circle cx="427.34" cy="322.50" r="2.55" fill="url(#gace4fa)"/>
<circle cx="432.88" cy="323.33" r="2.55" fill="url(#gace4fa)"/>
<circle cx="438.42" cy="322.73" r="2.55" fill="url(#gace4fa)"/>
<circle cx="443.96" cy="326.62" r="2.55" fill="url(#gace4fa)"/>
<circle cx="449.50" cy="328.88" r="2.55" fill="url(#gace4fa)"/>
<circle cx="455.04" cy="330.96" r="2.55" fill="url(#gace4fa)"/>
<circle cx="460.58" cy="335.41" r="2.55" fill="url(#gace4fa)"/>
<circle cx="466.12" cy="341.25" r="2.55" fill="url(#gace4fa)"/>
<circle cx="471.66" cy="344.56" r="2.55" fill="url(#gace4fa)"/>
<circle cx="477.20" cy="347.62" r="2.55" fill="url(#gace4fa)"/>
<circle cx="482.74" cy="351.22" r="2.55" fill="url(#gace4fa)"/>
<circle cx="488.28" cy="354.27" r="2.55" fill="url(#gace4fa)"/>
<circle cx="493.82" cy="357.19" r="2.55" fill="url(#gace4fa)"/>
<circle cx="499.36" cy="360.91" r="2.55" fill="url(#gace4fa)"/>
<circle cx="504.90" cy="363.44" r="2.55" fill="url(#gace4fa)"/>
<circle cx="510.44" cy="364.34" r="2.55" fill="url(#gace4fa)"/>
<circle cx="515.98" cy="364.91" r="2.55" fill="url(#gace4fa)"/>
<circle cx="521.52" cy="365.56" r="2.55" fill="url(#gace4fa)"/>
<circle cx="527.06" cy="365.85" r="2.55" fill="url(#gace4fa)"/>
<circle cx="532.60" cy="365.84" r="2.55" fill="url(#gace4fa)"/>
<circle cx="394.10" cy="327.56" r="2.55" fill="url(#g56ccf6)"/>
<circle cx="399.64" cy="326.80" r="2.55" fill="url(#g56ccf6)"/>
<circle cx="405.18" cy="326.59" r="2.55" fill="url(#g56ccf6)"/>
<circle cx="410.72" cy="327.11" r="2.55" fill="url(#g56ccf6)"/>
<circle cx="416.26" cy="328.04" r="2.55" fill="url(#g56ccf6)"/>
<circle cx="421.80" cy="328.45" r="2.55" fill="url(#g56ccf6)"/>
<circle cx="427.34" cy="328.30" r="2.55" fill="url(#g56ccf6)"/>
<circle cx="432.88" cy="329.29" r="2.55" fill="url(#g56ccf6)"/>
<circle cx="438.42" cy="329.09" r="2.55" fill="url(#g56ccf6)"/>
<circle cx="443.96" cy="333.09" r="2.55" fill="url(#g56ccf6)"/>
<circle cx="449.50" cy="335.51" r="2.55" fill="url(#g56ccf6)"/>
<circle cx="455.04" cy="337.58" r="2.55" fill="url(#g56ccf6)"/>
<circle cx="460.58" cy="342.00" r="2.55" fill="url(#g56ccf6)"/>
<circle cx="466.12" cy="347.53" r="2.55" fill="url(#g56ccf6)"/>
<circle cx="471.66" cy="350.69" r="2.55" fill="url(#g56ccf6)"/>
<circle cx="477.20" cy="353.75" r="2.55" fill="url(#g56ccf6)"/>
<circle cx="482.74" cy="357.04" r="2.55" fill="url(#g56ccf6)"/>
<circle cx="488.28" cy="359.93" r="2.55" fill="url(#g56ccf6)"/>
<circle cx="493.82" cy="362.69" r="2.55" fill="url(#g56ccf6)"/>
<circle cx="499.36" cy="366.23" r="2.55" fill="url(#g56ccf6)"/>
<circle cx="504.90" cy="368.47" r="2.55" fill="url(#g56ccf6)"/>
<circle cx="510.44" cy="369.25" r="2.55" fill="url(#g56ccf6)"/>
<circle cx="515.98" cy="369.75" r="2.55" fill="url(#g56ccf6)"/>
<circle cx="521.52" cy="370.30" r="2.55" fill="url(#g56ccf6)"/>
<circle cx="527.06" cy="370.47" r="2.55" fill="url(#g56ccf6)"/>
<circle cx="532.60" cy="370.29" r="2.55" fill="url(#g56ccf6)"/>
<circle cx="394.10" cy="332.27" r="2.55" fill="url(#g10a6ec)"/>
<circle cx="399.64" cy="331.93" r="2.55" fill="url(#g10a6ec)"/>
<circle cx="405.18" cy="331.61" r="2.55" fill="url(#g10a6ec)"/>
<circle cx="410.72" cy="332.40" r="2.55" fill="url(#g10a6ec)"/>
<circle cx="416.26" cy="333.15" r="2.55" fill="url(#g10a6ec)"/>
<circle cx="421.80" cy="333.61" r="2.55" fill="url(#g10a6ec)"/>
<circle cx="427.34" cy="333.54" r="2.55" fill="url(#g10a6ec)"/>
<circle cx="432.88" cy="334.65" r="2.55" fill="url(#g10a6ec)"/>
<circle cx="438.42" cy="334.78" r="2.55" fill="url(#g10a6ec)"/>
<circle cx="443.96" cy="338.85" r="2.55" fill="url(#g10a6ec)"/>
<circle cx="449.50" cy="341.38" r="2.55" fill="url(#g10a6ec)"/>
<circle cx="455.04" cy="343.41" r="2.55" fill="url(#g10a6ec)"/>
<circle cx="460.58" cy="347.78" r="2.55" fill="url(#g10a6ec)"/>
<circle cx="466.12" cy="353.03" r="2.55" fill="url(#g10a6ec)"/>
<circle cx="471.66" cy="356.06" r="2.55" fill="url(#g10a6ec)"/>
<circle cx="477.20" cy="359.10" r="2.55" fill="url(#g10a6ec)"/>
<circle cx="482.74" cy="362.13" r="2.55" fill="url(#g10a6ec)"/>
<circle cx="488.28" cy="364.86" r="2.55" fill="url(#g10a6ec)"/>
<circle cx="493.82" cy="367.49" r="2.55" fill="url(#g10a6ec)"/>
<circle cx="499.36" cy="370.85" r="2.55" fill="url(#g10a6ec)"/>
<circle cx="504.90" cy="372.85" r="2.55" fill="url(#g10a6ec)"/>
<circle cx="510.44" cy="373.53" r="2.55" fill="url(#g10a6ec)"/>
<circle cx="515.98" cy="373.97" r="2.55" fill="url(#g10a6ec)"/>
<circle cx="521.52" cy="374.44" r="2.55" fill="url(#g10a6ec)"/>
<circle cx="527.06" cy="374.52" r="2.55" fill="url(#g10a6ec)"/>
<circle cx="532.60" cy="374.21" r="2.55" fill="url(#g10a6ec)"/>
<circle cx="394.10" cy="336.60" r="2.55" fill="url(#g0862cc)"/>
<circle cx="399.64" cy="336.60" r="2.55" fill="url(#g0862cc)"/>
<circle cx="405.18" cy="336.20" r="2.55" fill="url(#g0862cc)"/>
<circle cx="410.72" cy="337.20" r="2.55" fill="url(#g0862cc)"/>
<circle cx="416.26" cy="337.80" r="2.55" fill="url(#g0862cc)"/>
<circle cx="421.80" cy="338.30" r="2.55" fill="url(#g0862cc)"/>
<circle cx="427.34" cy="338.30" r="2.55" fill="url(#g0862cc)"/>
<circle cx="432.88" cy="339.50" r="2.55" fill="url(#g0862cc)"/>
<circle cx="438.42" cy="339.90" r="2.55" fill="url(#g0862cc)"/>
<circle cx="443.96" cy="344.00" r="2.55" fill="url(#g0862cc)"/>
<circle cx="449.50" cy="346.60" r="2.55" fill="url(#g0862cc)"/>
<circle cx="455.04" cy="348.60" r="2.55" fill="url(#g0862cc)"/>
<circle cx="460.58" cy="352.90" r="2.55" fill="url(#g0862cc)"/>
<circle cx="466.12" cy="357.90" r="2.55" fill="url(#g0862cc)"/>
<circle cx="471.66" cy="360.80" r="2.55" fill="url(#g0862cc)"/>
<circle cx="477.20" cy="363.80" r="2.55" fill="url(#g0862cc)"/>
<circle cx="482.74" cy="366.60" r="2.55" fill="url(#g0862cc)"/>
<circle cx="488.28" cy="369.20" r="2.55" fill="url(#g0862cc)"/>
<circle cx="493.82" cy="371.70" r="2.55" fill="url(#g0862cc)"/>
<circle cx="499.36" cy="374.90" r="2.55" fill="url(#g0862cc)"/>
<circle cx="504.90" cy="376.70" r="2.55" fill="url(#g0862cc)"/>
<circle cx="510.44" cy="377.30" r="2.55" fill="url(#g0862cc)"/>
<circle cx="515.98" cy="377.70" r="2.55" fill="url(#g0862cc)"/>
<circle cx="521.52" cy="378.10" r="2.55" fill="url(#g0862cc)"/>
<circle cx="527.06" cy="378.10" r="2.55" fill="url(#g0862cc)"/>
<circle cx="532.60" cy="377.70" r="2.55" fill="url(#g0862cc)"/>
<circle cx="347.20" cy="234.85" r="2.70" fill="url(#g0862cc)"/>
<circle cx="347.20" cy="249.35" r="2.70" fill="url(#g10a6ec)"/>
<circle cx="347.20" cy="263.85" r="2.70" fill="url(#g56ccf6)"/>
<circle cx="347.20" cy="278.35" r="2.70" fill="url(#gace4fa)"/>
<circle cx="347.20" cy="292.85" r="2.70" fill="url(#ga8d8b4)"/>
<circle cx="347.20" cy="307.35" r="2.70" fill="url(#g60ba70)"/>
<circle cx="347.20" cy="321.85" r="2.70" fill="url(#gb6d494)"/>
<circle cx="347.20" cy="336.35" r="2.70" fill="url(#gece4aa)"/>
<circle cx="347.20" cy="350.85" r="2.70" fill="url(#gd69e52)"/>
<circle cx="347.20" cy="365.35" r="2.70" fill="url(#gc0763a)"/>
<circle cx="347.20" cy="379.85" r="2.70" fill="url(#g883e12)"/>
<text class="S" transform="translate(2.68 21.29) skewY(0.03) scale(0.9372 1)" font-family='"Liberation Serif", serif' font-size="18.12" font-weight="bold" fill="#000">a)</text>
<text class="S" transform="translate(2.32 214.39) skewY(0.03) scale(1.0358 1)" font-family='"Liberation Serif", serif' font-size="17.39" font-weight="bold" fill="#000">b)</text>
<text class="S" transform="translate(286.30 214.31) skewY(0.03) scale(1.0167 1)" font-family='"Liberation Serif", serif' font-size="17.93" font-weight="bold" fill="#000">c)</text>
<text class="S" transform="translate(28.86 228.29) skewY(0.03) scale(0.9902 1)" font-family='"Liberation Serif", serif' font-size="11.60" font-weight="bold" fill="#000">7.0G</text>
<text class="S" transform="translate(312.33 227.94) skewY(0.03) scale(1.0179 1)" font-family='"Liberation Serif", serif' font-size="11.12" font-weight="bold" fill="#000">7.0G</text>
<text class="S" transform="translate(29.06 258.39) skewY(0.03) scale(0.9512 1)" font-family='"Liberation Serif", serif' font-size="11.84" font-weight="bold" fill="#000">6.0G</text>
<text class="S" transform="translate(312.58 258.29) skewY(0.03) scale(0.9593 1)" font-family='"Liberation Serif", serif' font-size="11.62" font-weight="bold" fill="#000">6.0G</text>
<text class="S" transform="translate(28.93 288.71) skewY(0.03) scale(1.0034 1)" font-family='"Liberation Serif", serif' font-size="11.46" font-weight="bold" fill="#000">5.0G</text>
<text class="S" transform="translate(312.37 288.59) skewY(0.03) scale(0.9928 1)" font-family='"Liberation Serif", serif' font-size="11.38" font-weight="bold" fill="#000">5.0G</text>
<text class="S" transform="translate(29.26 318.96) skewY(0.03) scale(0.9638 1)" font-family='"Liberation Serif", serif' font-size="11.49" font-weight="bold" fill="#000">4.0G</text>
<text class="S" transform="translate(312.66 318.77) skewY(0.03) scale(0.9984 1)" font-family='"Liberation Serif", serif' font-size="11.16" font-weight="bold" fill="#000">4.0G</text>
<text class="S" transform="translate(28.97 349.21) skewY(0.03) scale(0.9689 1)" font-family='"Liberation Serif", serif' font-size="11.82" font-weight="bold" fill="#000">3.0G</text>
<text class="S" transform="translate(312.48 349.07) skewY(0.03) scale(0.9561 1)" font-family='"Liberation Serif", serif' font-size="11.79" font-weight="bold" fill="#000">3.0G</text>
<text class="S" transform="translate(28.79 379.45) skewY(0.03) scale(0.9976 1)" font-family='"Liberation Serif", serif' font-size="11.57" font-weight="bold" fill="#000">2.0G</text>
<text class="S" transform="translate(312.30 379.21) skewY(0.03) scale(1.0125 1)" font-family='"Liberation Serif", serif' font-size="11.19" font-weight="bold" fill="#000">2.0G</text>
<text class="S" transform="translate(65.37 402.96) skewY(0.03) scale(1.1020 1)" font-family='"Liberation Serif", serif' font-size="10.07" font-weight="bold" fill="#000">0.0</text>
<text class="S" transform="translate(99.81 403.18) skewY(0.03) scale(1.0857 1)" font-family='"Liberation Serif", serif' font-size="10.24" font-weight="bold" fill="#000">0.5</text>
<text class="S" transform="translate(133.44 402.84) skewY(0.03) scale(1.1814 1)" font-family='"Liberation Serif", serif' font-size="9.98" font-weight="bold" fill="#000">1.0</text>
<text class="S" transform="translate(167.83 403.01) skewY(0.03) scale(1.2010 1)" font-family='"Liberation Serif", serif' font-size="10.01" font-weight="bold" fill="#000">1.5</text>
<text class="S" transform="translate(203.22 402.84) skewY(0.03) scale(1.0950 1)" font-family='"Liberation Serif", serif' font-size="10.14" font-weight="bold" fill="#000">2.0</text>
<text class="S" transform="translate(237.43 402.91) skewY(0.03) scale(1.1573 1)" font-family='"Liberation Serif", serif' font-size="9.85" font-weight="bold" fill="#000">2.5</text>
<text class="S" transform="translate(329.92 403.15) skewY(0.03) scale(1.1269 1)" font-family='"Liberation Serif", serif' font-size="9.86" font-weight="bold" fill="#000">-1.0</text>
<text class="S" transform="translate(357.60 403.10) skewY(0.03) scale(1.1464 1)" font-family='"Liberation Serif", serif' font-size="9.75" font-weight="bold" fill="#000">-0.5</text>
<text class="S" transform="translate(387.32 403.18) skewY(0.03) scale(1.1137 1)" font-family='"Liberation Serif", serif' font-size="9.94" font-weight="bold" fill="#000">0.0</text>
<text class="S" transform="translate(415.01 403.12) skewY(0.03) scale(1.1330 1)" font-family='"Liberation Serif", serif' font-size="9.87" font-weight="bold" fill="#000">0.5</text>
<text class="S" transform="translate(441.36 403.32) skewY(0.03) scale(1.2059 1)" font-family='"Liberation Serif", serif' font-size="10.17" font-weight="bold" fill="#000">1.0</text>
<text class="S" transform="translate(469.43 403.10) skewY(0.03) scale(1.2207 1)" font-family='"Liberation Serif", serif' font-size="9.81" font-weight="bold" fill="#000">1.5</text>
<text class="S" transform="translate(497.99 403.23) skewY(0.03) scale(1.1229 1)" font-family='"Liberation Serif", serif' font-size="9.96" font-weight="bold" fill="#000">2.0</text>
<text class="S" transform="translate(525.81 403.22) skewY(0.03) scale(1.1283 1)" font-family='"Liberation Serif", serif' font-size="9.96" font-weight="bold" fill="#000">2.5</text>
<text class="S" transform="translate(124.19 421.59) skewY(0.03) scale(0.9717 1)" font-family='"Liberation Serif", serif' font-size="14.85" font-weight="bold" fill="#000">Voltage (V)</text>
<text class="S" transform="translate(408.19 421.59) skewY(0.03) scale(0.9717 1)" font-family='"Liberation Serif", serif' font-size="14.85" font-weight="bold" fill="#000">Voltage (V)</text>
<text class="S" transform="translate(19.54 351.23) rotate(-90) skewY(0.03) scale(0.9616 1)" font-family='"Liberation Serif", serif' font-size="14.71" font-weight="bold" fill="#000">Resistance (&#937;)</text>
<text class="S" transform="translate(302.39 351.91) rotate(-90) skewY(0.03) scale(0.9762 1)" font-family='"Liberation Serif", serif' font-size="14.48" font-weight="bold" fill="#000">Resistance (&#937;)</text>
<text class="S" transform="translate(89.14 368.71) skewY(0.03) scale(1.1135 1)" font-family='"Liberation Serif", serif' font-size="10.57" font-weight="bold" fill="#000">Measurement</text>
<text class="S" transform="translate(89.28 383.18) skewY(0.03) scale(1.0886 1)" font-family='"Liberation Serif", serif' font-size="10.65" font-weight="bold" fill="#000">Calculation</text>
<text class="S" transform="translate(362.64 238.40) skewY(0.03) scale(1.0527 1)" font-family='"Liberation Serif", serif' font-size="11.36" font-weight="bold" fill="#000">10:0</text>
<text class="S" transform="translate(363.54 253.14) skewY(0.03) scale(1.0459 1)" font-family='"Liberation Serif", serif' font-size="11.60" font-weight="bold" fill="#000">9:1</text>
<text class="S" transform="translate(363.37 267.55) skewY(0.03) scale(0.9885 1)" font-family='"Liberation Serif", serif' font-size="11.88" font-weight="bold" fill="#000">8:2</text>
<text class="S" transform="translate(363.32 282.28) skewY(0.03) scale(0.9929 1)" font-family='"Liberation Serif", serif' font-size="11.79" font-weight="bold" fill="#000">7:3</text>
<text class="S" transform="translate(363.51 296.66) skewY(0.03) scale(0.9866 1)" font-family='"Liberation Serif", serif' font-size="11.62" font-weight="bold" fill="#000">6:4</text>
<text class="S" transform="translate(363.08 311.33) skewY(0.03) scale(0.9970 1)" font-family='"Liberation Serif", serif' font-size="11.89" font-weight="bold" fill="#000">5:5</text>
<text class="S" transform="translate(363.76 325.65) skewY(0.03) scale(0.9359 1)" font-family='"Liberation Serif", serif' font-size="11.99" font-weight="bold" fill="#000">4:6</text>
<text class="S" transform="translate(363.25 340.39) skewY(0.03) scale(0.9826 1)" font-family='"Liberation Serif", serif' font-size="11.90" font-weight="bold" fill="#000">3:7</text>
<text class="S" transform="translate(363.12 354.63) skewY(0.03) scale(0.9867 1)" font-family='"Liberation Serif", serif' font-size="11.81" font-weight="bold" fill="#000">2:8</text>
<text class="S" transform="translate(362.79 369.00) skewY(0.03) scale(1.0415 1)" font-family='"Liberation Serif", serif' font-size="11.52" font-weight="bold" fill="#000">1:9</text>
<text class="S" transform="translate(363.46 383.62) skewY(0.03) scale(0.9905 1)" font-family='"Liberation Serif", serif' font-size="11.76" font-weight="bold" fill="#000">0:10</text>
<text class="S" transform="translate(421.47 195.59) skewY(0.03) scale(1.2310 1)" font-family='"Liberation Serif", serif' font-size="14.24" font-weight="bold" fill="#000">i</text>
<text class="S" transform="translate(425.28 199.58) skewY(0.03) scale(1.0254 1)" font-family='"Liberation Serif", serif' font-size="10.90" font-weight="bold" fill="#000">total</text>
<text class="S" transform="translate(446.27 197.34) skewY(0.03) scale(1.1303 1)" font-family='"Liberation Serif", serif' font-size="17.32" font-weight="bold" fill="#000">=</text>
<text class="S" transform="translate(462.03 186.86) skewY(0.03) scale(1.1489 1)" font-family='"Liberation Serif", serif' font-size="13.74" font-weight="bold" fill="#000">i</text>
<text class="S" transform="translate(465.07 190.72) skewY(0.03) scale(1.1112 1)" font-family='"Liberation Serif", serif' font-size="9.78" font-weight="bold" fill="#000">FE</text>
<text class="S" transform="translate(478.83 188.41) skewY(0.03) scale(0.9184 1)" font-family='"Liberation Serif", serif' font-size="14.46" font-weight="bold" fill="#000">+</text>
<text class="S" transform="translate(485.45 186.93) skewY(0.03) scale(1.3956 1)" font-family='"Liberation Serif", serif' font-size="13.61" font-weight="bold" fill="#000">i</text>
<text class="S" transform="translate(489.55 190.38) skewY(0.03) scale(1.2104 1)" font-family='"Liberation Serif", serif' font-size="8.77" font-weight="bold" fill="#000">AFE(like)</text>
<text class="S" transform="translate(493.72 203.17) skewY(0.03) scale(1.0414 1)" font-family='"Liberation Serif", serif' font-size="12.54" font-weight="bold" fill="#000">2</text>
<path d="M461.6 191.9H534.4" stroke="#000" stroke-width="1.2"/>
</svg></body></html>
